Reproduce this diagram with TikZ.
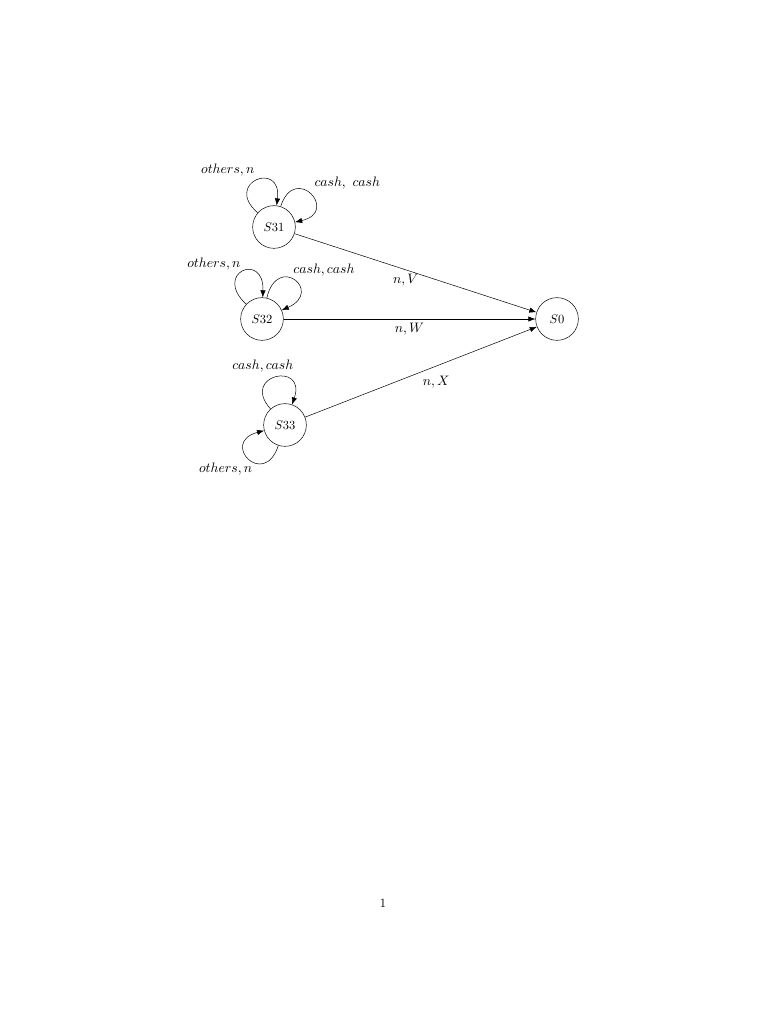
\documentclass[tikz,border=0pt]{standalone}
\usetikzlibrary{arrows.meta}
\begin{document}
\begin{tikzpicture}[x=0.02811cm,y=0.02811cm,>={Latex[length=2mm,width=1.5mm]},
  state/.style={draw,circle,minimum size=1.2cm,inner sep=0pt},
  selfloop/.style={->,loop,min distance=1.3cm},
  lbl/.style={font=\fontsize{11}{13}\selectfont}]
  \useasboundingbox (0,0) rectangle (768,1024);

  % 状态
  \node[state] (S31) at (274,797) {$S31$};
  \node[state] (S32) at (262,705) {$S32$};
  \node[state] (S33) at (285,599) {$S33$};
  \node[state] (S0)  at (557,705) {$S0$};

  % 自环
  \path (S31) edge[selfloop,out=139,in=83] node[lbl,above left,xshift=2pt]  {$others, n$} (S31)
        (S31) edge[selfloop,out=72,in=13]  node[lbl,above right] {$cash,\ cash$} (S31);
  \path (S32) edge[selfloop,out=137,in=88] node[lbl,above left,xshift=2pt,yshift=-2pt]  {$others, n$} (S32)
        (S32) edge[selfloop,out=77,in=24]  node[lbl,above right,xshift=-4pt] {$cash, cash$} (S32);
  \path (S33) edge[selfloop,out=132,in=71] node[lbl,above,xshift=-10pt,yshift=1pt]       {$cash, cash$} (S33)
        (S33) edge[selfloop,out=252,in=195] node[lbl,below left,xshift=6pt] {$others, n$} (S33);

  % 到 S0 的转移
  \draw[->] (S31) -- (S0) node[lbl,pos=0.46,below] {$n, V$};
  \draw[->] (S32) -- (S0) node[lbl,midway,below] {$n, W$};
  \draw[->] (S33) -- (S0) node[lbl,midway,below right,xshift=-2pt] {$n, X$};

  % 页码
  \node (page) at (383,121) {1};
\end{tikzpicture}
\end{document}
